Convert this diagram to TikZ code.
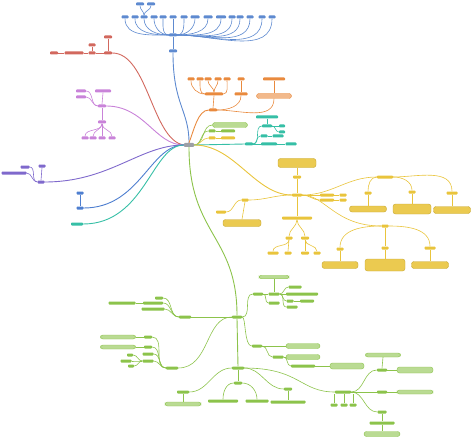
\documentclass[tikz,border=0pt]{standalone}
\definecolor{cBl}{HTML}{5E8AD0}
\definecolor{cRd}{HTML}{D2685E}
\definecolor{cOr}{HTML}{E98A3E}
\definecolor{cPu}{HTML}{C983D9}
\definecolor{cIn}{HTML}{7F69CC}
\definecolor{cSb}{HTML}{4F7FD0}
\definecolor{cTl}{HTML}{36BFA6}
\definecolor{cYe}{HTML}{E9C43C}
\definecolor{cGr}{HTML}{8CC34B}
\definecolor{cGy}{HTML}{9C9FA6}
\tikzset{nb/.style={rounded corners=0.8pt,inner sep=0pt,minimum height=3pt},
 bx/.style={rounded corners=2.5pt,inner sep=0pt,line width=0.4pt},
 ln/.style={draw=#1,line width=0.6pt},
 tk/.style={draw=#1,line width=0.9pt}}
\newcommand\mmN[5]{\node[nb,fill=#2,minimum width=#3pt] (#1) at (#4,440-#5) {};}
\newcommand\mmB[6]{\node[bx,fill=#2!60!white,draw=#2,minimum width=#3pt,minimum height=#4pt] (#1) at (#5,440-#6) {};}
\newcommand\mmY[6]{\node[bx,fill=#2!90!white,draw=#2!85!black,minimum width=#3pt,minimum height=#4pt] (#1) at (#5,440-#6) {};}
\begin{document}
\begin{tikzpicture}[x=1pt,y=1pt]
\useasboundingbox (0,0) rectangle (474,440);
% central
\node[nb,fill=cGy,minimum width=10pt,minimum height=4pt] (c) at (189,440-145) {};
% ---------- blue
\mmN{b0}{cBl}{8}{173}{51}
\mmN{b1}{cBl}{8}{173}{35}
\foreach \i/\x/\w in {1/125/7,2/135/7,3/144/7,4/154/7,5/163/7,6/173/7,7/184/7,8/195/9,9/208/9,10/221/10,11/232/7,12/240/7,13/250/7,14/262/7,15/272/7}
  {\mmN{r\i}{cBl}{\w}{\x}{17}}
\mmN{t1}{cBl}{8}{140}{4}
\mmN{t2}{cBl}{8}{151}{4}
\foreach \i in {1,...,5} {\draw[ln=cBl] (r\i.south) to[out=-90,in=180] (b1.west);}
\draw[ln=cBl] (r6.south) -- (b1.north);
\foreach \i in {7,...,15} {\draw[ln=cBl] (r\i.south) to[out=-90,in=0] (b1.east);}
\draw[ln=cBl] (t1.south) to[out=-90,in=90] (r3.north);
\draw[ln=cBl] (t2.south) to[out=-90,in=90] (r3.north);
\draw[ln=cBl] (b1.south) -- (b0.north);
\draw[tk=cBl] (b0.south) .. controls (173,440-105) and (189,440-110) .. (c.north);
% ---------- red
\mmN{rd1}{cRd}{8}{54}{53}
\mmN{rd2}{cRd}{19}{74}{53}
\mmN{rd3}{cRd}{7}{92}{53}
\mmN{rd4}{cRd}{8}{108}{53}
\mmN{rd5}{cRd}{7}{92}{45}
\mmN{rd6}{cRd}{8}{108}{37}
\draw[ln=cRd] (rd1.east) -- (rd2.west);
\draw[ln=cRd] (rd2.east) -- (rd3.west);
\draw[ln=cRd] (rd3.east) -- (rd4.west);
\draw[ln=cRd] (rd5.south) -- (rd3.north);
\draw[ln=cRd] (rd6.south) -- (rd4.north);
\draw[tk=cRd] (rd4.east) .. controls (148,440-53) and (152,440-140) .. (c.west);
% ---------- orange
\foreach \i/\x in {1/191,2/200,3/208,4/218,5/227,6/241} {\mmN{o\i}{cOr}{7}{\x}{79}}
\mmN{o7}{cOr}{22}{274}{79}
\mmN{o8}{cOr}{18}{214}{94}
\mmN{o9}{cOr}{13}{241}{94}
\mmB{o10}{cOr}{35}{5}{274}{96}
\mmN{o11}{cOr}{8}{213}{110}
\draw[ln=cOr] (o1.south) to[out=-90,in=180] (o8.west);
\draw[ln=cOr] (o2.south) to[out=-90,in=180] (o8.west);
\draw[ln=cOr] (o3.south) to[out=-90,in=90] (o8.north);
\draw[ln=cOr] (o4.south) to[out=-90,in=90] (o8.north);
\draw[ln=cOr] (o5.south) to[out=-90,in=0] (o8.east);
\draw[ln=cOr] (o6.south) -- (o9.north);
\draw[ln=cOr] (o7.south) -- (o10.north);
\draw[ln=cOr] (o8.south) -- (o11.north);
\draw[ln=cOr] (o11.east) to[out=0,in=-90] (o9.south);
\draw[ln=cOr] (o11.east) to[out=0,in=-90] (o10.south);
\draw[tk=cOr] (o11.west) .. controls (198,440-110) and (194,440-130) .. (c.north);
% ---------- purple
\mmN{p1}{cPu}{10}{81}{91}
\mmN{p2}{cPu}{10}{81}{97}
\mmN{p3}{cPu}{16}{103}{91}
\mmN{p4}{cPu}{8}{102}{106}
\mmN{p5}{cPu}{8}{102}{122}
\foreach \i/\x in {6/85,7/93,8/102,9/112} {\mmN{p\i}{cPu}{7}{\x}{138}}
\draw[ln=cPu] (p1.east) to[out=0,in=180] (p4.west);
\draw[ln=cPu] (p2.east) to[out=0,in=180] (p4.west);
\draw[ln=cPu] (p3.south) -- (p4.north);
\draw[ln=cPu] (p4.south) -- (p5.north);
\foreach \i in {6,7,9} {\draw[ln=cPu] (p5.south) to[out=-90,in=90] (p\i.north);}
\draw[ln=cPu] (p5.south) -- (p8.north);
\draw[tk=cPu] (p4.east) .. controls (145,440-106) and (155,440-145) .. (c.west);
% ---------- indigo
\mmN{i1}{cIn}{25}{14}{173}
\mmN{i2}{cIn}{9}{25}{167}
\mmN{i3}{cIn}{7}{42}{166}
\mmN{i4}{cIn}{7}{41}{182}
\draw[ln=cIn] (i1.east) to[out=0,in=180] (i4.west);
\draw[ln=cIn] (i2.east) to[out=0,in=180] (i4.west);
\draw[ln=cIn] (i3.south) -- (i4.north);
\draw[tk=cIn] (i4.east) .. controls (110,440-182) and (140,440-145) .. (c.west);
% ---------- slate blue
\mmN{s1}{cSb}{7}{80}{193}
\mmN{s2}{cSb}{7}{80}{208}
\draw[ln=cSb] (s1.south) -- (s2.north);
\draw[tk=cSb] (s2.east) .. controls (140,440-208) and (150,440-145) .. (c.west);
% ---------- teal
\mmN{tt0}{cTl}{12}{77}{224}
\draw[tk=cTl] (tt0.east) .. controls (145,440-224) and (152,440-145) .. (c.west);
% ---------- small green / yellow / teal right of centre
\mmB{ga}{cGr}{35}{5}{230}{125}
\mmN{ga1}{cGr}{7}{212}{131}
\mmN{ga2}{cGr}{14}{228}{131}
\mmN{ya1}{cYe}{7}{212}{138}
\mmN{ya2}{cYe}{14}{228}{138}
\draw[ln=cGr] (c.east) to[out=0,in=180] (ga.west);
\draw[ln=cGr] (c.east) to[out=0,in=180] (ga1.west);
\draw[ln=cGr] (ga1.east) -- (ga2.west);
\draw[ln=cYe] (c.east) to[out=0,in=180] (ya1.west);
\draw[ln=cYe] (ya1.east) -- (ya2.west);
\mmN{q1}{cTl}{8}{249}{144}
\mmN{q2}{cTl}{10}{267}{126}
\mmN{q3}{cTl}{22}{267}{117}
\mmN{q4}{cTl}{6}{282}{126}
\mmN{q5}{cTl}{6}{282}{132}
\mmN{q6}{cTl}{7}{264}{136}
\mmN{q7}{cTl}{11}{278}{136}
\mmN{q8}{cTl}{16}{269}{144}
\mmN{q9}{cTl}{11}{291}{144}
\draw[tk=cTl] (c.east) -- (q1.west);
\draw[ln=cTl] (q1.east) to[out=0,in=180] (q2.west);
\draw[ln=cTl] (q1.east) to[out=0,in=180] (q6.west);
\draw[ln=cTl] (q1.east) -- (q8.west);
\draw[ln=cTl] (q3.south) -- (q2.north);
\draw[ln=cTl] (q2.east) -- (q4.west);
\draw[ln=cTl] (q2.east) to[out=0,in=180] (q5.west);
\draw[ln=cTl] (q6.east) -- (q7.west);
\draw[ln=cTl] (q8.east) -- (q9.west);
% ---------- yellow
\mmN{y0}{cYe}{10}{297}{195}
\mmN{y1}{cYe}{8}{297}{177}
\mmY{y2}{cYe}{38}{9}{297}{163}
\mmN{y3}{cYe}{14}{327}{195}
\mmN{y4}{cYe}{7}{343}{195}
\mmN{y5}{cYe}{14}{327}{200}
\mmN{y6}{cYe}{7}{343}{200}
\mmN{y7}{cYe}{16}{385}{177}
\mmN{y8}{cYe}{7}{368}{193}
\mmN{y9}{cYe}{7}{412}{192}
\mmN{y10}{cYe}{11}{452}{193}
\mmY{y11}{cYe}{37}{6}{368}{209}
\mmY{y12}{cYe}{38}{10}{412}{209}
\mmY{y13}{cYe}{37}{7}{452}{210}
\mmN{y14}{cYe}{7}{245}{200}
\mmN{y15}{cYe}{10}{221}{212}
\mmY{y16}{cYe}{38}{7}{242}{223}
\mmN{y17}{cYe}{30}{297}{218}
\mmN{y18}{cYe}{7}{289}{238}
\mmN{y19}{cYe}{8}{305}{238}
\mmN{y20}{cYe}{11}{273}{253}
\mmN{y21}{cYe}{7}{288}{253}
\mmN{y22}{cYe}{8}{305}{253}
\mmN{y23}{cYe}{7}{317}{253}
\mmN{y24}{cYe}{7}{385}{226}
\mmN{y25}{cYe}{7}{340}{249}
\mmN{y26}{cYe}{7}{385}{248}
\mmN{y27}{cYe}{11}{430}{248}
\mmY{y28}{cYe}{36}{7}{340}{265}
\mmY{y29}{cYe}{40}{12}{385}{265}
\mmY{y30}{cYe}{37}{7}{430}{265}
\draw[tk=cYe] (c.east) .. controls (235,440-145) and (255,440-195) .. (y0.west);
\draw[ln=cYe] (y0.north) -- (y1.south);
\draw[ln=cYe] (y1.north) -- (y2.south);
\draw[ln=cYe] (y0.east) -- (y3.west);
\draw[ln=cYe] (y3.east) -- (y4.west);
\draw[ln=cYe] (y0.east) to[out=0,in=180] (y5.west);
\draw[ln=cYe] (y5.east) -- (y6.west);
\draw[ln=cYe] (y0.east) to[out=0,in=180] (y7.west);
\draw[ln=cYe] (y7.west) to[out=180,in=90] (y8.north);
\draw[ln=cYe] (y7.east) to[out=0,in=90] (y9.north);
\draw[ln=cYe] (y7.east) to[out=0,in=90] (y10.north);
\draw[ln=cYe] (y8.south) -- (y11.north);
\draw[ln=cYe] (y9.south) -- (y12.north);
\draw[ln=cYe] (y10.south) -- (y13.north);
\draw[ln=cYe] (y0.west) to[out=180,in=0] (y14.east);
\draw[ln=cYe] (y14.west) to[out=180,in=0] (y15.east);
\draw[ln=cYe] (y14.south) -- (y16.north);
\draw[ln=cYe] (y0.south) -- (y17.north);
\draw[ln=cYe] (y17.south) to[out=-90,in=90] (y18.north);
\draw[ln=cYe] (y17.south) to[out=-90,in=90] (y19.north);
\draw[ln=cYe] (y18.south) to[out=-90,in=90] (y20.north);
\draw[ln=cYe] (y18.south) -- (y21.north);
\draw[ln=cYe] (y19.south) -- (y22.north);
\draw[ln=cYe] (y19.south) to[out=-90,in=90] (y23.north);
\draw[ln=cYe] (y0.east) .. controls (325,440-195) and (335,440-226) .. (y24.west);
\draw[ln=cYe] (y24.west) to[out=180,in=90] (y25.north);
\draw[ln=cYe] (y24.south) -- (y26.north);
\draw[ln=cYe] (y24.east) to[out=0,in=90] (y27.north);
\draw[ln=cYe] (y25.south) -- (y28.north);
\draw[ln=cYe] (y26.south) -- (y29.north);
\draw[ln=cYe] (y27.south) -- (y30.north);
% ---------- green
\mmN{g0}{cGr}{10}{237}{317}
\draw[tk=cGr] (c.south) .. controls (189,440-235) and (237,440-235) .. (g0.north);
\mmN{g1}{cGr}{10}{258}{294}
\mmN{g2}{cGr}{11}{274}{294}
\mmB{g3}{cGr}{30}{3.5}{274}{277}
\mmN{g4}{cGr}{11}{274}{303}
\mmN{g5}{cGr}{13}{295}{287}
\mmN{g6}{cGr}{32}{302}{294}
\mmN{g7}{cGr}{7}{290}{301}
\mmN{g8}{cGr}{14}{307}{301}
\mmN{g9}{cGr}{11}{292}{307}
\draw[ln=cGr] (g0.east) to[out=0,in=180] (g1.west);
\draw[ln=cGr] (g1.east) -- (g2.west);
\draw[ln=cGr] (g3.south) -- (g2.north);
\draw[ln=cGr] (g1.east) to[out=0,in=180] (g4.west);
\foreach \k in {g5,g6,g7,g9} {\draw[ln=cGr] (g2.east) to[out=0,in=180] (\k.west);}
\draw[ln=cGr] (g7.east) -- (g8.west);
\mmN{g10}{cGr}{12}{185}{317}
\mmN{g11}{cGr}{8}{159}{298}
\mmN{g12}{cGr}{20}{153}{303}
\mmN{g13}{cGr}{27}{122}{303}
\mmN{g14}{cGr}{23}{153}{309}
\draw[ln=cGr] (g0.west) -- (g10.east);
\foreach \k in {g11,g12,g14} {\draw[ln=cGr] (g10.west) to[out=180,in=0] (\k.east);}
\draw[ln=cGr] (g12.west) -- (g13.east);
\mmN{g15}{cGr}{10}{257}{346}
\mmB{g16}{cGr}{34}{5}{303}{346}
\mmN{g17}{cGr}{11}{278}{357}
\mmB{g18}{cGr}{34}{5}{303}{357}
\mmN{g19}{cGr}{24}{303}{366}
\mmB{g20}{cGr}{34}{6}{347}{366}
\draw[ln=cGr] (g0.east) .. controls (246,440-317) and (244,440-346) .. (g15.west);
\draw[ln=cGr] (g15.east) -- (g16.west);
\draw[ln=cGr] (g15.east) to[out=0,in=180] (g17.west);
\draw[ln=cGr] (g17.east) -- (g18.west);
\draw[ln=cGr] (g17.east) to[out=0,in=180] (g19.west);
\draw[ln=cGr] (g19.east) -- (g20.west);
\mmN{g21}{cGr}{12}{172}{368}
\mmN{g22}{cGr}{8}{148}{337}
\mmB{g23}{cGr}{35}{4}{118}{337}
\mmN{g24}{cGr}{8}{148}{347}
\mmB{g25}{cGr}{35}{4}{118}{347}
\mmN{g26}{cGr}{11}{148}{354}
\mmN{g27}{cGr}{11}{148}{361}
\mmN{g28}{cGr}{6}{130}{355}
\mmN{g29}{cGr}{11}{126}{361}
\mmN{g30}{cGr}{6}{131}{366}
\draw[ln=cGr] (g21.east) .. controls (210,440-368) and (205,440-317) .. (g0.west);
\foreach \k in {g22,g24,g26,g27} {\draw[ln=cGr] (g21.west) to[out=180,in=0] (\k.east);}
\draw[ln=cGr] (g22.west) -- (g23.east);
\draw[ln=cGr] (g24.west) -- (g25.east);
\foreach \k in {g28,g29,g30} {\draw[ln=cGr] (g27.west) to[out=180,in=0] (\k.east);}
\mmN{g31}{cGr}{12}{238}{368}
\mmN{g32}{cGr}{8}{238}{383}
\mmN{g33}{cGr}{30}{223}{401}
\mmN{g34}{cGr}{23}{257}{401}
\mmN{g35}{cGr}{12}{183}{392}
\mmB{g36}{cGr}{36}{4}{183}{404}
\mmN{g37}{cGr}{8}{288}{389}
\mmN{g38}{cGr}{35}{288}{402}
\draw[tk=cGr] (g0.south) -- (g31.north);
\draw[ln=cGr] (g31.south) -- (g32.north);
\draw[ln=cGr] (g32.west) to[out=180,in=90] (g33.north);
\draw[ln=cGr] (g32.east) to[out=0,in=90] (g34.north);
\draw[ln=cGr] (g31.west) to[out=180,in=0] (g35.east);
\draw[ln=cGr] (g35.south) -- (g36.north);
\draw[ln=cGr] (g31.east) to[out=0,in=180] (g37.west);
\draw[ln=cGr] (g37.south) -- (g38.north);
\mmN{g39}{cGr}{16}{343}{392}
\mmN{g40}{cGr}{7}{334}{405}
\mmN{g41}{cGr}{7}{344}{405}
\mmN{g42}{cGr}{7}{353}{405}
\draw[ln=cGr] (g31.east) .. controls (300,440-368) and (300,440-392) .. (g39.west);
\foreach \k in {g40,g41,g42} {\draw[ln=cGr] (\k.north) -- (\k.north |- g39.south);}
\mmN{g43}{cGr}{10}{382}{370}
\mmB{g44}{cGr}{35}{4}{383}{355}
\mmB{g45}{cGr}{36}{6}{415}{370}
\mmN{g46}{cGr}{10}{382}{392}
\mmB{g47}{cGr}{36}{4}{415}{392}
\mmN{g48}{cGr}{9}{382}{412}
\mmN{g49}{cGr}{25}{382}{423}
\mmB{g50}{cGr}{36}{5}{382}{434}
\draw[ln=cGr] (g39.east) to[out=0,in=180] (g43.west);
\draw[ln=cGr] (g39.east) -- (g46.west);
\draw[ln=cGr] (g39.east) to[out=0,in=180] (g48.west);
\draw[ln=cGr] (g43.north) -- (g44.south);
\draw[ln=cGr] (g43.east) -- (g45.west);
\draw[ln=cGr] (g46.east) -- (g47.west);
\draw[ln=cGr] (g48.south) -- (g49.north);
\draw[ln=cGr] (g49.south) -- (g50.north);
\end{tikzpicture}
\end{document}
